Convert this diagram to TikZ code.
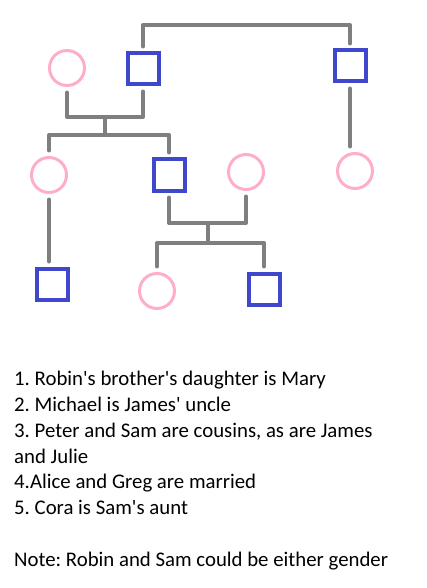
\documentclass[tikz,border=0pt]{standalone}
\usepackage{fontspec}
\setmainfont{Carlito}
\definecolor{rose}{RGB}{255,174,201}
\definecolor{indigo}{RGB}{63,72,204}
\definecolor{kingrey}{RGB}{127,127,127}
\tikzset{
  female/.style={circle,draw=rose,line width=3pt,minimum size=35pt,inner sep=0pt,outer sep=7pt},
  male/.style={rectangle,draw=indigo,line width=4pt,minimum size=31pt,inner sep=0pt,outer sep=7pt},
  kin/.style={draw=kingrey,line width=4pt,line cap=round,line join=round},
  clue/.style={anchor=base west,inner sep=0pt,font=\fontsize{20.8}{25.7}\selectfont\frenchspacing}
}
\newcommand{\q}{\textquotesingle}
\begin{document}
\begin{tikzpicture}[x=1pt,y=-1pt]
      \useasboundingbox (0,0) rectangle (426,588);
      % Draw first generation
      \node[female] (grandma) at (67,68) {};
      \node[male] (grandpa) at (143,69) {};
      \node[male] (granduncle) at (350,66) {};
      % Draw second generation
      \node[female] (aunt) at (49,175) {};
      \node[male] (father) at (169,175) {};
      \node[female] (mother) at (246,172) {};
      \node[female] (cousin) at (355,171) {};
      % Draw third generation
      \node[male] (nephew) at (52,284) {};
      \node[female] (daughter) at (157,291) {};
      \node[male] (son) at (264,289) {};
      % Draw sibling line on top
      \coordinate (top) at (247,25);
      \draw[kin] (grandpa.north) |- (top) -| (granduncle.north);
      % Draw first couple and their children
      \coordinate (wed1) at (105,117);
      \coordinate (kids1) at (105,135);
      \draw[kin] (grandma.south) |- (wed1) -| (grandpa.south);
      \draw[kin] (wed1) -- (kids1);
      \draw[kin] (aunt.north) |- (kids1) -| (father.north);
      % Draw single lines of descent
      \draw[kin] (granduncle.south) -- (granduncle.south |- cousin.north);
      \draw[kin] (aunt.south) -- (aunt.south |- nephew.north);
      % Draw second couple and their children
      \coordinate (wed2) at (208,223);
      \coordinate (kids2) at (208,243);
      \draw[kin] (father.south) |- (wed2) -| (mother.south);
      \draw[kin] (wed2) -- (kids2);
      \draw[kin] (daughter.north) |- (kids2) -| (son.north);
      % Draw the clues
      \node[clue] (clue1) at (14,385) {1. Robin\q s brother\q s daughter is Mary};
      \node[clue] (clue2) at (14,411) {2. Michael is James\q\ uncle};
      \node[clue] (clue3) at (14,437) {3. Peter and Sam are cousins, as are James};
      \node[clue] (clue3b) at (14,463) {and Julie};
      \node[clue] (clue4) at (14,488) {4.Alice and Greg are married};
      \node[clue] (clue5) at (14,514) {5. Cora is Sam\q s aunt};
      \node[clue] (note) at (14,566) {Note: Robin and Sam could be either gender};
    \end{tikzpicture}
\end{document}
